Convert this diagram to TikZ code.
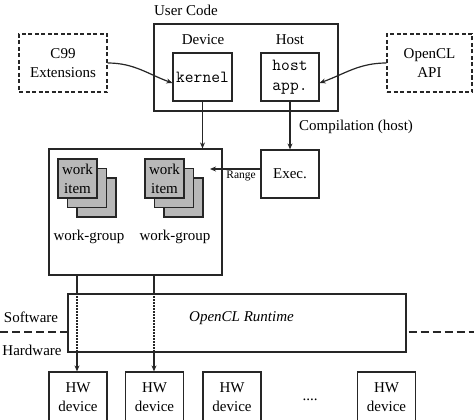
\documentclass[tikz,border=0pt]{standalone}
\usepackage{fontspec}
\setmainfont{Liberation Serif}
\usetikzlibrary{arrows.meta}
\tikzset{
  frame/.style={draw=black!85, line width=1.2pt, inner sep=0pt},
  txt/.style={font=\fontsize{15}{19}\selectfont, align=center, inner sep=0pt},
  mono/.style={font=\fontsize{17}{20}\ttfamily, align=center, inner sep=0pt},
  dbox/.style={frame, txt, dash pattern=on 4pt off 2.5pt, minimum height=58pt},
  wi/.style={frame, txt, fill=black!28, minimum width=39pt, minimum height=39pt},
  hw/.style={frame, txt, minimum width=58pt, minimum height=50pt},
  arr/.style={line width=1.2pt, draw=black!85, -{Stealth[length=6pt,width=5pt]}},
  plain/.style={line width=1.2pt, draw=black!85},
  dotln/.style={line width=1.1pt, draw=black!85, dash pattern=on 1.5pt off 1.5pt},
  sep/.style={line width=2.6pt, draw=black!85, dash pattern=on 8pt off 4pt}
}
\begin{document}
\begin{tikzpicture}[x=1pt,y=-1pt]
\useasboundingbox (0,0) rectangle (474,420);
\clip (0,0) rectangle (474,420);

% User code
\node[frame, minimum width=184pt, minimum height=87pt] (uc) at (246,67.5) {};
\node[txt] (uclab) at (186,10) {User Code};
\node[txt] (devlab) at (203,40) {Device};
\node[txt] (hostlab) at (290,40) {Host};
\node[frame, mono, minimum width=59pt, minimum height=48pt] (kernel) at (202.5,77) {kernel};
\node[frame, mono, minimum width=58pt, minimum height=48pt] (host) at (290,77) {host\\app.};

% extensions
\node[dbox, minimum width=88pt] (c99) at (63,63) {C99\\Extensions};
\node[dbox, minimum width=85pt] (api) at (429.5,63) {OpenCL\\API};

\draw[arr] (c99.east) to[out=0,in=160] ([yshift=-6pt]kernel.west);
\draw[arr] (api.west) to[out=180,in=20] ([yshift=-6pt]host.east);

% work-groups box
\node[frame, minimum width=173pt, minimum height=126pt] (wg) at (135.5,212) {};
\node[wi] (a3) at (96.5,197.5) {};
\node[wi] (a2) at (87,188) {};
\node[wi] (a1) at (77.5,178.5) {work\\item};
\node[wi] (b3) at (183.5,197.5) {};
\node[wi] (b2) at (174,188) {};
\node[wi] (b1) at (164.5,178.5) {work\\item};
\node[txt] (wgl1) at (89,237) {work-group};
\node[txt] (wgl2) at (175,237) {work-group};

% exec
\node[frame, txt, minimum width=58pt, minimum height=48pt] (exec) at (290,174) {Exec.};
\draw[arr] (kernel.south) -- (kernel.south |- wg.north);
\draw[arr] (host.south) -- (exec.north);
\node[txt, anchor=west] (comp) at (299,127) {Compilation (host)};
\coordinate (rangeend) at (210,169);
\draw[arr] ([yshift=5pt]exec.west) -- (rangeend);
\node[font=\fontsize{11.5}{13}\selectfont, inner sep=0pt, anchor=base east] (range) at (256,178) {Range};

% runtime
\node[frame, minimum width=338pt, minimum height=58pt] (rt) at (237,323) {};
\node[txt, font=\fontsize{15}{19}\selectfont\itshape] (rtl) at (241.5,318) {OpenCL Runtime};
\coordinate (swL) at (0,332);
\coordinate (swR) at (474,332);
\draw[sep] (swL) -- (swL -| rt.west);
\draw[sep] ([xshift=2pt]swR -| rt.east) -- (swR);
\node[txt] (sw) at (31,317.5) {Software};
\node[txt] (hwl) at (32,350) {Hardware};

% HW devices
\node[hw] (hw1) at (78,397) {HW\\device};
\node[hw] (hw2) at (154.5,397) {HW\\device};
\node[hw] (hw3) at (232,397) {HW\\device};
\node[hw] (hw4) at (386.5,397) {HW\\device};
\node[txt, anchor=base] (dots) at (310,400) {....};

% dispatch arrows
\draw[plain] (wg.south -| 77,0) -- (rt.north -| 77,0);
\draw[dotln] (rt.north -| 77,0) -- (rt.south -| 77,0);
\draw[arr] (rt.south -| 77,0) -- (hw1.north -| 77,0);
\draw[plain] (wg.south -| 154,0) -- (rt.north -| 154,0);
\draw[dotln] (rt.north -| 154,0) -- (rt.south -| 154,0);
\draw[arr] (rt.south -| 154,0) -- (hw2.north -| 154,0);
\end{tikzpicture}
\end{document}
